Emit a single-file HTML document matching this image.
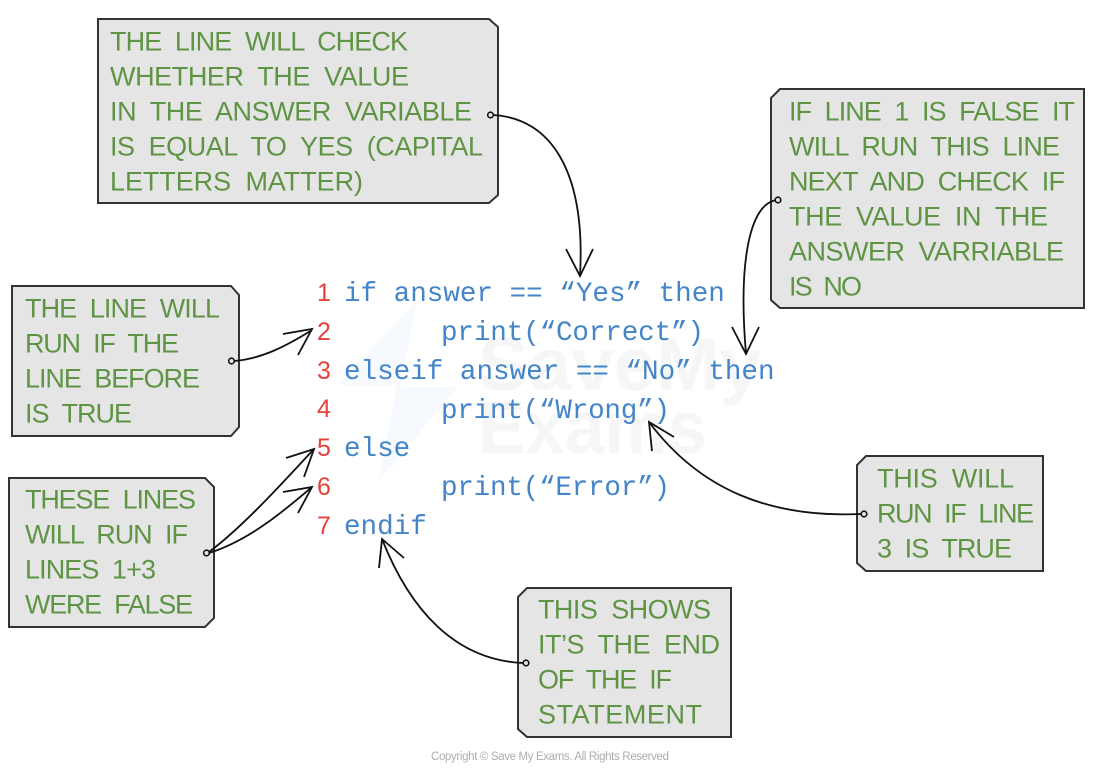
<!DOCTYPE html>
<html>
<head>
<meta charset="utf-8">
<style>
html,body{margin:0;padding:0;background:#fff;width:1100px;height:770px;overflow:hidden}
svg{display:block}
.box{fill:#e5e5e5;stroke:#333;stroke-width:2}
.g{font-family:"Liberation Sans",sans-serif;font-size:27px;fill:#5f9445;word-spacing:7px}
.c{font-family:"Liberation Mono",monospace;font-size:27.6px;fill:#4385c8}
.n{font-family:"Liberation Sans",sans-serif;font-size:25px;fill:#e2423a}
.l{fill:none;stroke:#111;stroke-width:1.8}
.d{fill:none;stroke:#111;stroke-width:1.6}
.w{font-family:"Liberation Sans",sans-serif;font-weight:bold;font-size:74px;fill:#f6f6f6}
</style>
</head>
<body>
<svg width="1100" height="770" viewBox="0 0 1100 770" xmlns="http://www.w3.org/2000/svg">
<polygon points="417,300 338,385 397,385 378,482 458,387 400,387" fill="#f6f9fe"/>
<text class="w" x="478" y="390" textLength="284" lengthAdjust="spacingAndGlyphs">SaveMy</text>
<text class="w" x="478" y="453" textLength="229" lengthAdjust="spacingAndGlyphs">Exams</text>

<polygon class="box" points="98,19 489,19 498,27 498,195 489,203 98,203"/>
<polygon class="box" points="780,89 1084,89 1084,308 780,308 771,300 771,98"/>
<polygon class="box" points="12,286 231,286 239,295 239,427 231,436 12,436"/>
<polygon class="box" points="9,478 205,478 214,487 214,618 205,627 9,627"/>
<polygon class="box" points="866,456 1043,456 1043,571 866,571 857,563 857,465"/>
<polygon class="box" points="527,588 731,588 731,737 527,737 518,729 518,597"/>

<g transform="translate(0,0.7)">
<text class="g" x="110" y="50" textLength="298">THE LINE WILL CHECK</text>
<text class="g" x="110" y="85" textLength="299">WHETHER THE VALUE</text>
<text class="g" x="110" y="120" textLength="362">IN THE ANSWER VARIABLE</text>
<text class="g" x="110" y="155" textLength="373">IS EQUAL TO YES (CAPITAL</text>
<text class="g" x="110" y="190" textLength="253">LETTERS MATTER)</text>

<text class="g" x="789" y="120" textLength="286">IF LINE 1 IS FALSE IT</text>
<text class="g" x="789" y="155" textLength="271">WILL RUN THIS LINE</text>
<text class="g" x="789" y="190" textLength="276">NEXT AND CHECK IF</text>
<text class="g" x="789" y="225" textLength="259">THE VALUE IN THE</text>
<text class="g" x="789" y="260" textLength="275">ANSWER VARRIABLE</text>
<text class="g" x="789" y="295" textLength="73">IS NO</text>

<text class="g" x="25" y="317" textLength="195">THE LINE WILL</text>
<text class="g" x="25" y="352" textLength="154">RUN IF THE</text>
<text class="g" x="25" y="387" textLength="175">LINE BEFORE</text>
<text class="g" x="25" y="422" textLength="107">IS TRUE</text>

<text class="g" x="25" y="508" textLength="171">THESE LINES</text>
<text class="g" x="25" y="543" textLength="163">WILL RUN IF</text>
<text class="g" x="25" y="578" textLength="131">LINES 1+3</text>
<text class="g" x="25" y="613" textLength="168">WERE FALSE</text>

<text class="g" x="877" y="487" textLength="137">THIS WILL</text>
<text class="g" x="877" y="522" textLength="157">RUN IF LINE</text>
<text class="g" x="877" y="557" textLength="135">3 IS TRUE</text>

<text class="g" x="538" y="618" textLength="173">THIS SHOWS</text>
<text class="g" x="538" y="653" textLength="182">IT’S THE END</text>
<text class="g" x="538" y="688" textLength="134">OF THE IF</text>
<text class="g" x="538" y="723" textLength="164">STATEMENT</text>
</g>

<text class="n" x="317" y="301">1</text>
<text class="n" x="317" y="340">2</text>
<text class="n" x="317" y="379">3</text>
<text class="n" x="317" y="417">4</text>
<text class="n" x="317" y="456">5</text>
<text class="n" x="317" y="495">6</text>
<text class="n" x="317" y="534">7</text>

<text class="c" x="344" y="301">if answer == “Yes” then</text>
<text class="c" x="441" y="340" textLength="263">print(“Correct”)</text>
<text class="c" x="344" y="379">elseif answer == “No” then</text>
<text class="c" x="441" y="418" textLength="229">print(“Wrong”)</text>
<text class="c" x="344" y="456">else</text>
<text class="c" x="441" y="495" textLength="229">print(“Error”)</text>
<text class="c" x="344" y="534">endif</text>

<path class="l" d="M493 115 C550 118 586 170 580 276"/>
<path class="l" d="M566 249 L580 276 L593 249"/>
<circle class="d" cx="490.5" cy="115" r="2.8"/>

<path class="l" d="M776 200 C750 205 738 260 746 354"/>
<path class="l" d="M732 327 L746 354 L759 327"/>
<circle class="d" cx="778" cy="200" r="2.8"/>

<path class="l" d="M234 361 C262 359 288 345 312 330"/>
<path class="l" d="M283 334 L312 329 L298 355"/>
<circle class="d" cx="231.500" cy="361" r="2.800"/>

<path class="l" d="M209 552 C245 525 285 480 314 449"/>
<path class="l" d="M286 458 L314 449 L304 477"/>
<path class="l" d="M209 553 C250 540 285 510 312 487"/>
<path class="l" d="M283 492 L312 487 L298 513"/>
<circle class="d" cx="206.500" cy="553" r="2.800"/>

<path class="l" d="M861 514 C770 518 700 490 649 422"/>
<path class="l" d="M674 437 L649 422 L652 451"/>
<circle class="d" cx="864" cy="514" r="2.800"/>

<path class="l" d="M523 663 C455 660 410 610 382 539"/>
<path class="l" d="M404 558 L382 539 L379 568"/>
<circle class="d" cx="526" cy="663" r="2.800"/>

<text x="550" y="760" text-anchor="middle" textLength="238" font-family="Liberation Sans, sans-serif" font-size="11.500" fill="#adadad">Copyright © Save My Exams. All Rights Reserved</text>
</svg>
</body>
</html>
